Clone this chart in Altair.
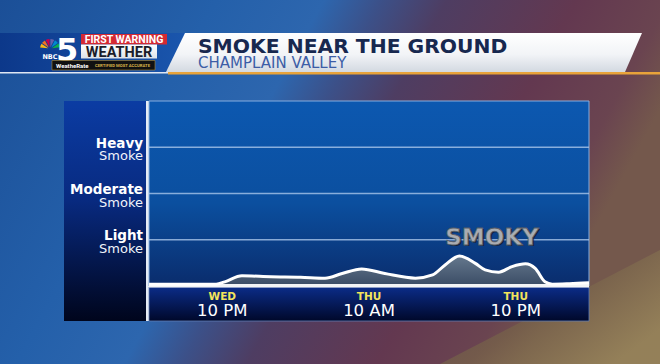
import altair as alt
import pandas as pd

# ---------------- data ----------------
hours = [0, 5.5, 6.2, 7.6, 10.0, 12.4, 14.4, 15.8, 17.4, 19.3, 21.8, 23.2, 24.2,
         25.4, 26.7, 27.5, 28.6, 29.7, 30.8, 31.6, 32.4, 33.0, 34.4, 36]
smoke = [0.04, 0.04, 0.09, 0.22, 0.20, 0.19, 0.17, 0.27, 0.37, 0.27, 0.17, 0.24, 0.45,
         0.65, 0.49, 0.35, 0.30, 0.42, 0.48, 0.38, 0.09, 0.04, 0.05, 0.07]

level_values = [3, 2, 1]
level_names = ["Heavy", "Moderate", "Light"]
level_sub = ["Smoke", "Smoke", "Smoke"]

tick_hours = [6, 18, 30]
tick_days = ["WED", "THU", "THU"]
tick_times = ["10 PM", "10 AM", "10 PM"]

title_text = "SMOKE NEAR THE GROUND"
subtitle_text = "CHAMPLAIN VALLEY"
annot_text = ["SMOKY"]
annot_hour = [28.06]
annot_level = [0.89]

# ---------------- layout helpers ----------------
L, T = 149, 101          # plot origin in page pixels
PW, PH = 440, 185        # plot size
XS = alt.Scale(domain=[0, 36], nice=False, zero=False)
YS = alt.Scale(domain=[0, 4], nice=False, zero=True)
ONE = pd.DataFrame({"k": [0]})


def px(x):
    return x - L


def py(y):
    return y - T


def grad(stops, x2=0, y2=1, x1=0, y1=0):
    return alt.LinearGradient(
        gradient="linear",
        stops=[alt.GradientStop(offset=o, color=c) for o, c in stops],
        x1=x1, y1=y1, x2=x2, y2=y2)


def rect(x1, y1, x2, y2, fill, **kw):
    return alt.Chart(ONE).mark_rect(fill=fill, **kw).encode(
        x=alt.value(px(x1)), x2=alt.value(px(x2)),
        y=alt.value(py(y1)), y2=alt.value(py(y2)))


def poly(xs, ys, y2s, fill, **kw):
    df = pd.DataFrame({"x": [px(v) for v in xs], "y": [py(v) for v in ys],
                       "y2": [py(v) for v in y2s]})
    return alt.Chart(df).mark_area(fill=fill, **kw).encode(
        x=alt.X("x:Q", scale=None, axis=None),
        y=alt.Y("y:Q", scale=None, axis=None),
        y2="y2:Q")


def label(x, y, text, size, color, weight="normal", align="left",
          font="DejaVu Sans", **kw):
    return alt.Chart(ONE).mark_text(
        text=text, fontSize=size, color=color, fontWeight=weight, align=align,
        font=font, baseline="alphabetic", **kw).encode(
        x=alt.value(px(x)), y=alt.value(py(y)))


layers = []

# ---------------- background ----------------
layers.append(rect(0, 0, 660, 364, grad([
    (0.0, "#1b4f97"), (0.3, "#2460aa"), (0.45, "#2d66ae"), (0.53, "#3c5088"),
    (0.62, "#4e3d62"), (0.8, "#633850"), (0.93, "#6a4450"), (1.0, "#74584c")],
    x2=1, y2=0.303)))
layers.append(poly([440, 660], [364, 250], [364, 364],
                   grad([(0, "#5e4a48"), (0.55, "#76604a"), (1, "#9c8a5c")], x2=1, y2=0.7),
                   opacity=0.8))

# ---------------- banner ----------------
layers.append(rect(0, 33, 186, 72, grad([(0, "#0c388a"), (1, "#1a56ad")], x2=1, y2=0)))
layers.append(poly([166, 185, 625, 642], [72, 33, 33, 33], [72, 72, 72, 33],
                   grad([(0, "#ffffff"), (0.55, "#f2f4f7"), (1, "#d3d9e1")])))
layers.append(rect(0, 72, 172, 73.5, "#dfe7f3"))
layers.append(rect(168, 72, 660, 74.5, "#e8a33a"))

# peacock
feathers = pd.DataFrame({
    "t1": [4.83, 5.31, 5.79, 6.28, 6.76, 7.24],
    "t2": [5.31, 5.79, 6.28, 6.76, 7.24, 7.72],
    "c": ["#fcb711", "#f37021", "#cc004c", "#6460aa", "#0089d0", "#0db14b"],
})
layers.append(alt.Chart(feathers).mark_arc(innerRadius=2, outerRadius=10, padAngle=0.08).encode(
    theta=alt.Theta("t1:Q", scale=None, stack=None), theta2="t2:Q",
    color=alt.Color("c:N", scale=None),
    x=alt.value(px(50)), y=alt.value(py(49))))
layers.append(label(50, 58.5, "NBC", 6.5, "white", "bold", "center"))
layers.append(label(67, 60.5, "5", 32, "white", "bold", "center"))
layers.append(rect(81, 34, 167, 44.5, "#d42a33"))
layers.append(label(124, 43.3, "FIRST WARNING", 10.5, "white", "bold", "center", font="Roboto"))
layers.append(rect(81, 44.5, 157, 58.5, grad([(0, "#ffffff"), (1, "#dde2e8")])))
layers.append(label(119, 57, "WEATHER", 14.5, "#1b1d2a", "bold", "center", font="Roboto"))
layers.append(rect(52, 60.5, 155, 70, "#111111", stroke="#b08a30", strokeWidth=0.6))
layers.append(label(56, 67.8, "WeatheRate", 6, "white", "bold", font="Roboto"))
layers.append(label(95, 67.2, "CERTIFIED MOST ACCURATE", 4.2, "#d9b44a", "bold", font="Roboto"))

layers.append(label(198, 52.7, title_text, 20.3, "#17284f", "bold"))
layers.append(label(198, 67.5, subtitle_text, 15, "#3c5da6"))

# ---------------- chart panels ----------------
layers.append(rect(64, 101, 146, 321, grad([(0, "#0b3ca3"), (0.45, "#082a80"), (1, "#00051c")])))
layers.append(rect(146, 101, 149, 321, "#e6ecf5"))
layers.append(rect(149, 101, 589, 286, grad([(0, "#0c58b0"), (0.55, "#0b4f9f"), (1, "#0a2c6c")]),
                   stroke="#86aee0", strokeWidth=1))
layers.append(rect(149, 287, 589, 321, grad([(0, "#0b2c88"), (1, "#00082a")]),
                   stroke="#5f7fb5", strokeWidth=0.8))

# gridlines
levels = pd.DataFrame({"level": level_values, "name": level_names, "sub": level_sub})
layers.append(alt.Chart(levels).mark_rule(color="#a9c6ea", strokeWidth=1.4, opacity=0.8).encode(
    y=alt.Y("level:Q", scale=YS, axis=None), x=alt.value(0), x2=alt.value(PW)))

# smoke curve
curve = pd.DataFrame({"hour": hours, "smoke": smoke})
layers.append(alt.Chart(curve).mark_area(
    interpolate="monotone",
    fill=grad([(0, "#6a7c8e"), (1, "#3c4d64")]), opacity=0.95).encode(
    x=alt.X("hour:Q", scale=XS, axis=None),
    y=alt.Y("smoke:Q", scale=YS, axis=None)))
layers.append(rect(149, 284, 589, 287.5, "#f2f4f6"))
layers.append(alt.Chart(curve).mark_line(
    interpolate="monotone", color="white", strokeWidth=3).encode(
    x=alt.X("hour:Q", scale=XS, axis=None),
    y=alt.Y("smoke:Q", scale=YS, axis=None)))

# level labels
layers.append(alt.Chart(levels).mark_text(
    align="right", baseline="alphabetic", font="DejaVu Sans", fontWeight="bold",
    fontSize=13.5, color="white", dy=0.5).encode(
    y=alt.Y("level:Q", scale=YS, axis=None), x=alt.value(px(143)), text="name:N"))
layers.append(alt.Chart(levels).mark_text(
    align="right", baseline="alphabetic", font="DejaVu Sans",
    fontSize=13, color="#f0f4fa", dy=13).encode(
    y=alt.Y("level:Q", scale=YS, axis=None), x=alt.value(px(143)), text="sub:N"))

# time labels
ticks = pd.DataFrame({"hour": tick_hours, "day": tick_days, "time": tick_times})
layers.append(alt.Chart(ticks).mark_text(
    align="center", baseline="alphabetic", font="DejaVu Sans", fontWeight="bold",
    fontSize=10.5, color="#f3e45c").encode(
    x=alt.X("hour:Q", scale=XS, axis=None), y=alt.value(py(299.5)), text="day:N"))
layers.append(alt.Chart(ticks).mark_text(
    align="center", baseline="alphabetic", font="DejaVu Sans",
    fontSize=16.5, color="white").encode(
    x=alt.X("hour:Q", scale=XS, axis=None), y=alt.value(py(315.5)), text="time:N"))

# SMOKY annotation
annot = pd.DataFrame({"hour": annot_hour, "level": annot_level, "text": annot_text})
layers.append(alt.Chart(annot).mark_text(
    align="center", baseline="alphabetic", font="DejaVu Sans", fontWeight="bold",
    fontSize=23, color="#10151f", opacity=0.7, dx=1.5, dy=1.5).encode(
    x=alt.X("hour:Q", scale=XS, axis=None), y=alt.Y("level:Q", scale=YS, axis=None),
    text="text:N"))
layers.append(alt.Chart(annot).mark_text(
    align="center", baseline="alphabetic", font="DejaVu Sans", fontWeight="bold",
    fontSize=23, color="#a9acb2", stroke="#5a5e66", strokeWidth=0.8).encode(
    x=alt.X("hour:Q", scale=XS, axis=None), y=alt.Y("level:Q", scale=YS, axis=None),
    text="text:N"))

chart = alt.layer(*layers).resolve_scale(
    x="independent", y="independent"
).properties(
    width=PW, height=PH,
    padding={"left": L, "top": T, "right": 660 - L - PW, "bottom": 364 - T - PH},
    autosize=alt.AutoSizeParams(type="none"),
    background="#1d4a8e",
).configure_view(stroke="transparent")

chart.save("out.html", embed_options={"renderer": "svg", "actions": False})
